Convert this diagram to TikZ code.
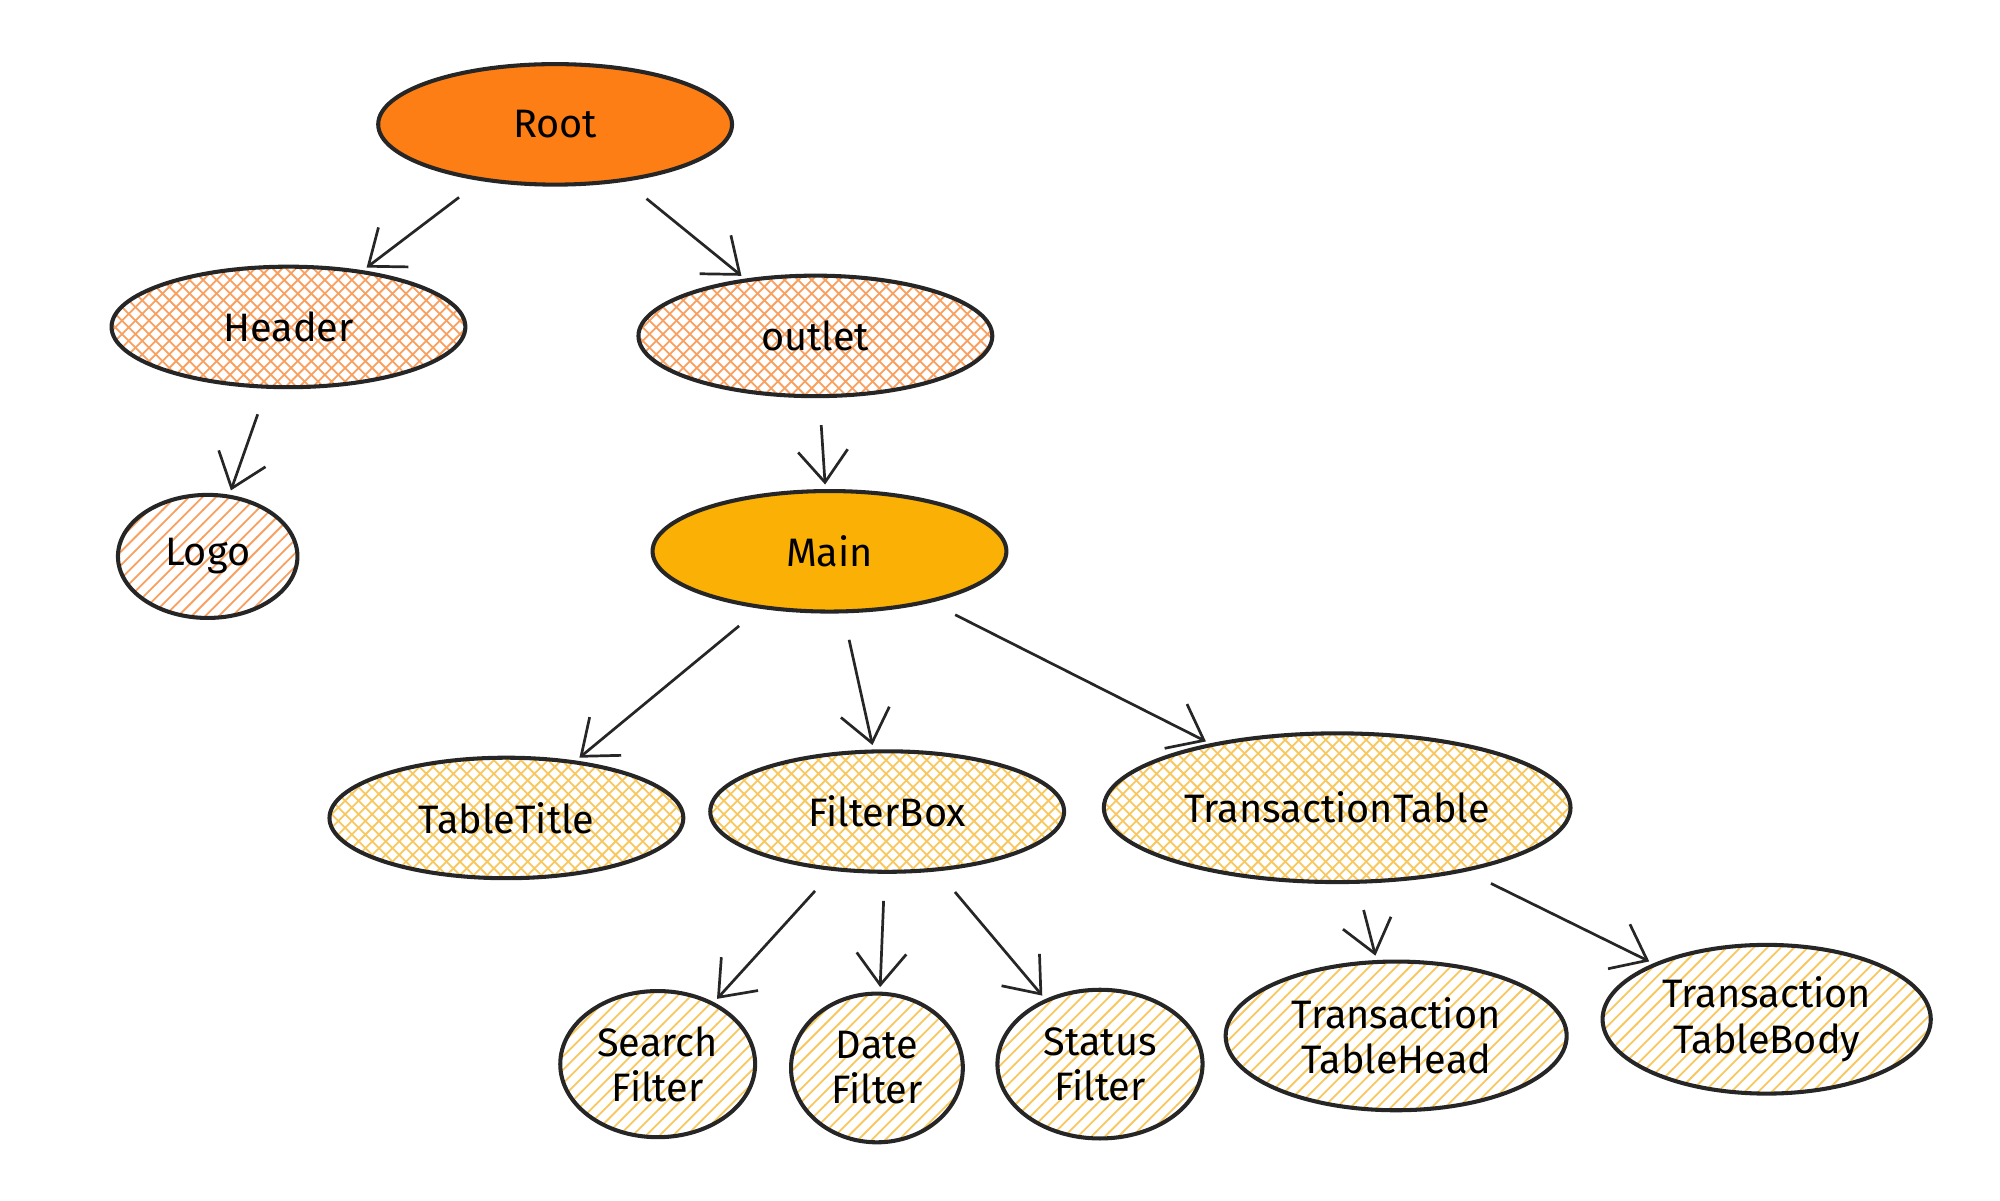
\documentclass[tikz,border=0pt]{standalone}
\usepackage{fontspec}
\setmainfont{Fira Sans}
\usetikzlibrary{shapes.geometric,arrows.meta,patterns}
\definecolor{rootc}{HTML}{FD7E14}
\definecolor{mainc}{HTML}{FAB005}
\definecolor{hatchA}{HTML}{F8A060}
\definecolor{hatchB}{HTML}{F8C860}
\tikzset{
  comp/.style={ellipse,draw=black!85,line width=0.9pt,inner sep=0pt,
    font=\fontsize{8.8}{10}\selectfont,align=center},
  sz/.style 2 args={minimum width=#1*0.01cm,minimum height=#2*0.01cm},
  solid/.style={comp,fill=#1},
  cross/.style={comp,pattern=crosshatch,pattern color=#1},
  lines/.style={comp,pattern=north east lines,pattern color=#1},
  link/.style={-{Straight Barb[length=7pt,width=11pt]},line width=0.6pt,black!85,shorten <=6pt,shorten >=1pt}
}
\begin{document}
\begin{tikzpicture}[x=0.01cm,y=-0.01cm]
\useasboundingbox (0,0) rectangle (1560,936);
\node[solid=rootc,sz={276}{94}] (root) at (433,97) {Root};
\node[cross=hatchA,sz={276}{94}] (header) at (225,255) {Header};
\node[cross=hatchA,sz={276}{94}] (outlet) at (636,262) {outlet};
\node[lines=hatchA,sz={140}{96}] (logo) at (162,434) {Logo};
\node[solid=mainc,sz={276}{94}] (main) at (647,430) {Main};
\node[cross=hatchB,sz={276}{94}] (title) at (395,638) {TableTitle};
\node[cross=hatchB,sz={276}{94}] (filter) at (692,633) {FilterBox};
\node[cross=hatchB,sz={364}{116}] (table) at (1043,630) {TransactionTable};
\node[lines=hatchB,sz={152}{114}] (search) at (513,830) {Search\\Filter};
\node[lines=hatchB,sz={134}{116}] (date) at (684,833) {Date\\Filter};
\node[lines=hatchB,sz={160}{116}] (status) at (858,830) {Status\\Filter};
\node[lines=hatchB,sz={266}{116}] (thead) at (1089,808) {Transaction\\TableHead};
\node[lines=hatchB,sz={256}{116}] (tbody) at (1378,795) {Transaction\\TableBody};
\draw[link] (root) -- (header);
\draw[link] (root) -- (outlet);
\draw[link] (header) -- (logo);
\draw[link] (outlet) -- (main);
\draw[link] (main) -- (title);
\draw[link] (main) -- (filter);
\draw[link] (main) -- (table);
\draw[link] (filter) -- (search);
\draw[link] (filter) -- (date);
\draw[link] (filter) -- (status);
\draw[link] (table) -- (thead);
\draw[link] (table) -- (tbody);
\end{tikzpicture}
\end{document}
